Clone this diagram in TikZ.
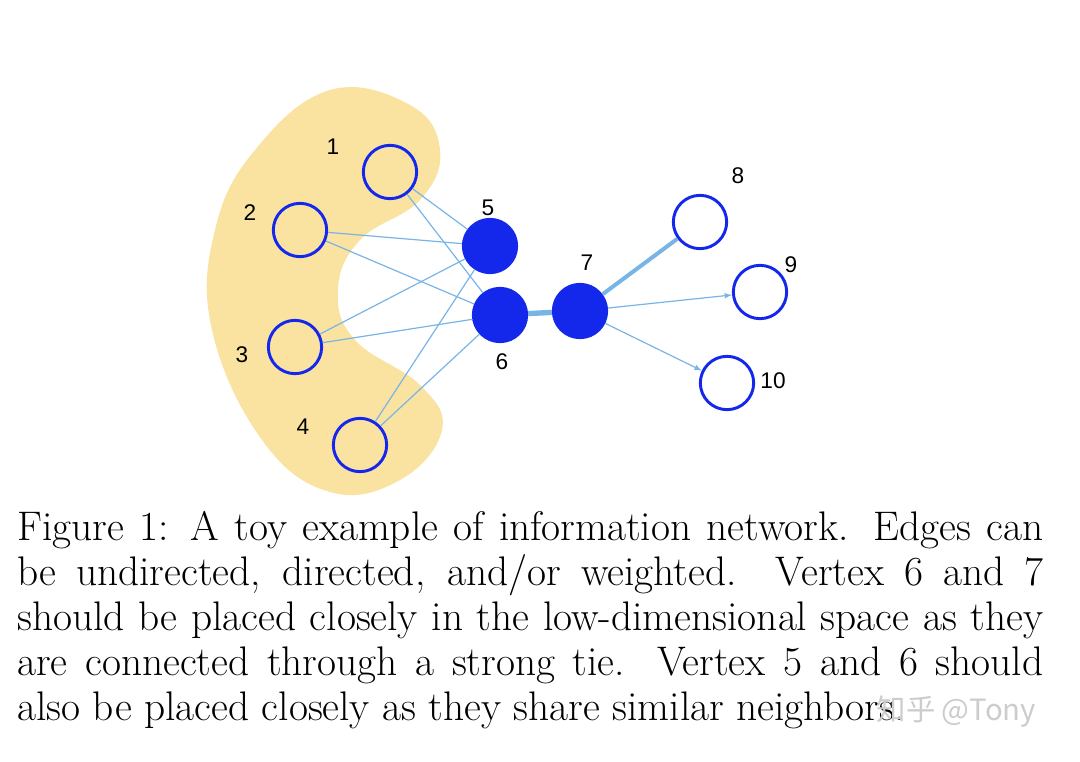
\documentclass[tikz,border=0pt]{standalone}
\usepackage{fontspec}
\newfontfamily\lab{Liberation Sans}
\newfontfamily\cjk{Noto Sans CJK SC}
\definecolor{vb}{RGB}{20,40,235}
\definecolor{eb}{RGB}{120,180,230}
\definecolor{yb}{RGB}{250,226,160}
\begin{document}
\begin{tikzpicture}[x=0.75pt,y=-0.75pt,
  v/.style={circle,draw=vb,line width=2.2pt,minimum size=40pt,inner sep=0pt},
  f/.style={v,fill=vb},
  lb/.style={font=\lab\fontsize{17}{20}\selectfont},
  e/.style={draw=eb,line width=0.9pt},
  a/.style={e,-latex}]
\useasboundingbox (0,0) rectangle (1080,762);
\fill[yb] plot[smooth cycle,tension=0.7] coordinates {(330,90)(410,105)(440,150)(420,200)(360,240)(338,290)(355,340)(420,385)(442,430)(400,480)(330,492)(262,440)(212,330)(215,230)(255,150)};
\node[v] (n1) at (390,172) {};
\node[v] (n2) at (300,230) {};
\node[v] (n3) at (295,347) {};
\node[v] (n4) at (360,445) {};
\node[f] (n5) at (490,246) {};
\node[f] (n6) at (500,315) {};
\node[f] (n7) at (580,311) {};
\node[v] (n8) at (700,222) {};
\node[v] (n9) at (760,292) {};
\node[v] (n10) at (727,383) {};
\foreach \s in {n1,n2,n3,n4}{\draw[e] (\s) -- (n5); \draw[e] (\s) -- (n6);}
\draw[e,line width=4pt] (n6) -- (n7);
\draw[e,line width=3pt] (n7) -- (n8);
\draw[a] (n7) -- (n9);
\draw[a] (n7) -- (n10);
\node[lb] at (333,147) {1};
\node[lb] at (250,213) {2};
\node[lb] at (242,355) {3};
\node[lb] at (303,427) {4};
\node[lb] at (488,208) {5};
\node[lb] at (502,362) {6};
\node[lb] at (587,263) {7};
\node[lb] at (738,176) {8};
\node[lb] at (791,265) {9};
\node[lb] at (773,381) {10};
\node[anchor=north west,inner sep=0pt,text width=769.5pt,align=justify,font=\fontsize{31}{33.75}\selectfont] (cap) at (17,511)
{Figure 1: A toy example of information network. Edges can\linebreak be undirected, directed, and/or weighted. Vertex 6 and 7\linebreak should be placed closely in the low-dimensional space as they\linebreak are connected through a strong tie. Vertex 5 and 6 should\linebreak also be placed closely as they share similar neighbors.};
\node[text=gray!40,font=\cjk\fontsize{22}{24}\selectfont,anchor=west] (wm) at (872,712) {知乎 @Tony};
\end{tikzpicture}
\end{document}
